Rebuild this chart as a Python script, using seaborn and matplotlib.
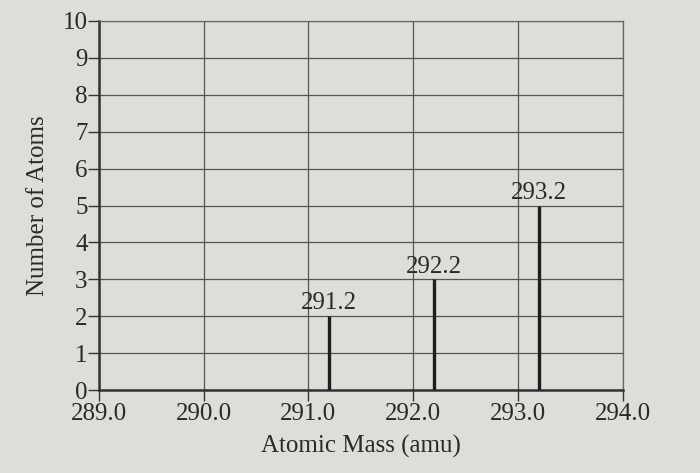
import seaborn as sns
import matplotlib.pyplot as plt
import pandas as pd

masses = [291.2, 292.2, 293.2]
counts = [2, 3, 5]
labels = ["291.2", "292.2", "293.2"]
xticks = [289.0, 290.0, 291.0, 292.0, 293.0, 294.0]
yticks = list(range(0, 11))

atoms = pd.DataFrame({"mass": masses, "count": counts, "label": labels})

sns.set_theme(style="whitegrid")
plt.rcParams["font.family"] = ["Liberation Serif", "DejaVu Serif"]

bg = "#dfddd9"
fig = plt.figure(figsize=(7, 4.73), dpi=100, facecolor=bg)
ax = fig.add_axes([0.141, 0.175, 0.749, 0.781], facecolor=bg)

ax.vlines(atoms["mass"], 0, atoms["count"], color="#1e1e1e", linewidth=2.4, zorder=3)
for m, c, lab in zip(atoms["mass"], atoms["count"], atoms["label"]):
    ax.text(m, c + 0.05, lab, ha="center", va="bottom", fontsize=18, color="#2a2a2a")

ax.set_xlim(289, 294)
ax.set_ylim(0, 10)
ax.set_xticks(xticks)
ax.set_xticklabels([f"{t:.1f}" for t in xticks])
ax.set_yticks(yticks)
ax.grid(True, color="#555555", linewidth=0.9)
ax.tick_params(axis="both", direction="out", length=8, width=1.0, color="#333333",
               labelsize=18, labelcolor="#2a2a2a", left=True, bottom=True)
ax.tick_params(axis="y", pad=0)
ax.tick_params(axis="x", pad=1)

for side in ["left", "bottom"]:
    ax.spines[side].set_color("#333333")
    ax.spines[side].set_linewidth(1.8)
for side in ["top", "right"]:
    ax.spines[side].set_color("#666666")
    ax.spines[side].set_linewidth(0.9)

ax.set_xlabel("Atomic Mass (amu)", fontsize=18, color="#2a2a2a", labelpad=7)
ax.set_ylabel("Number of Atoms", fontsize=18, color="#2a2a2a", labelpad=10)

fig.savefig("out.png", dpi=100, facecolor=bg)
